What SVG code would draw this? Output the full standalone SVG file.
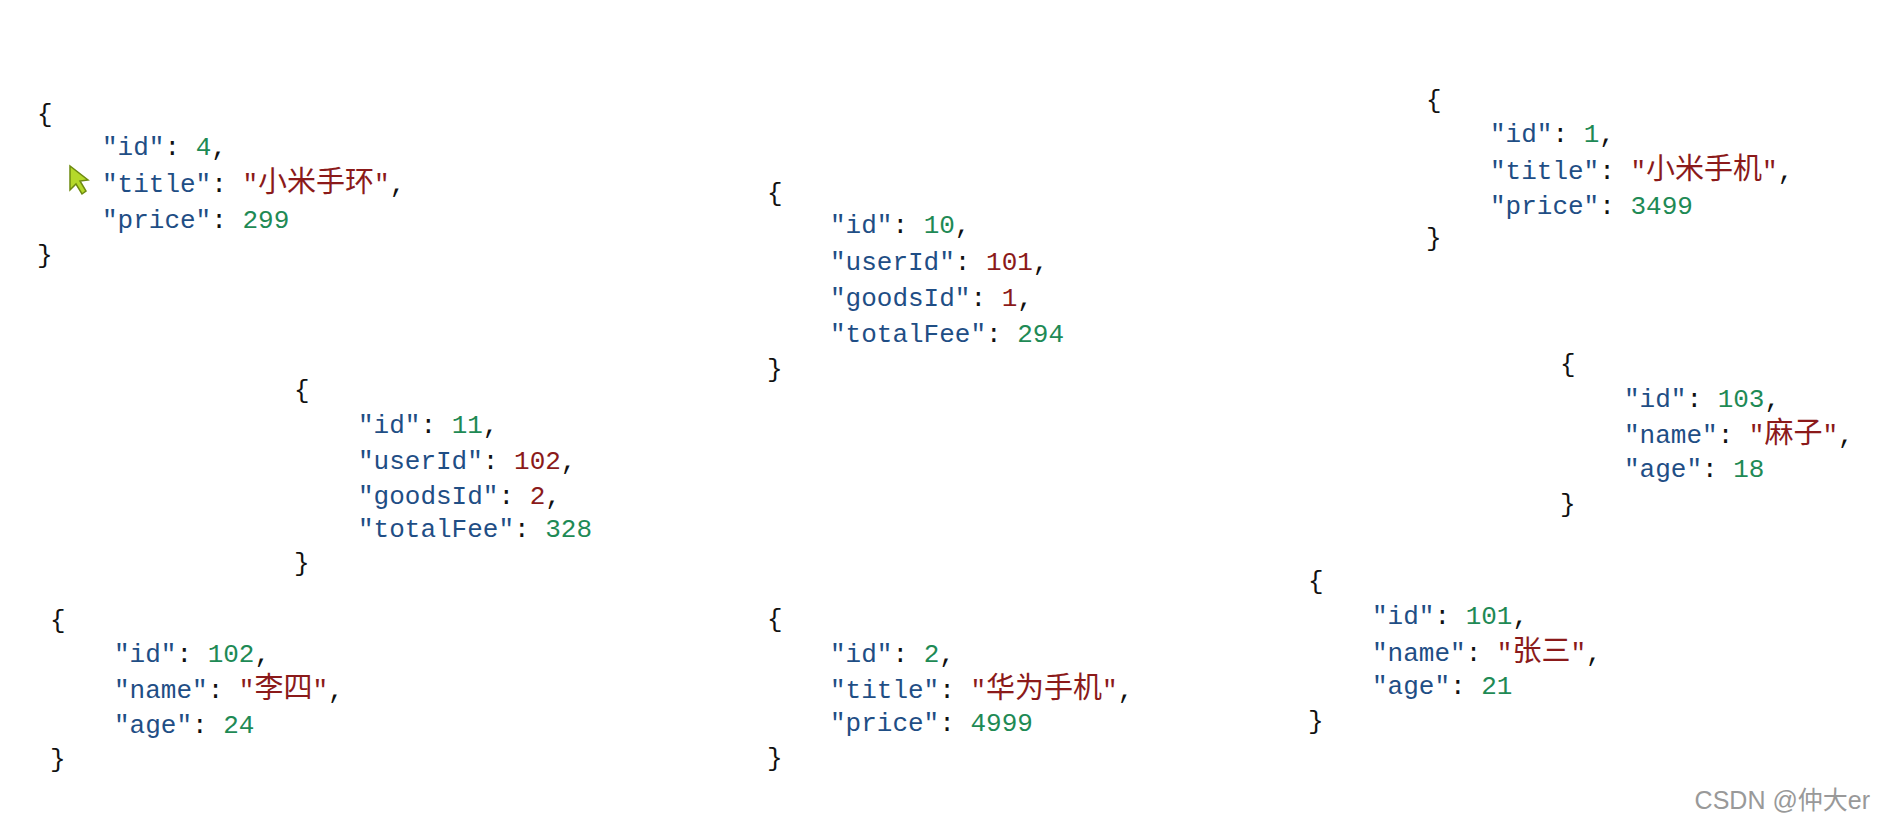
<svg xmlns="http://www.w3.org/2000/svg" width="1878" height="832" viewBox="0 0 1878 832">
<style>
text{font-family:"Liberation Mono","Noto Sans CJK SC",monospace;font-size:26px;white-space:pre;fill:#111}
.k{fill:#1f4e85}.n{fill:#1e8a55}.s{fill:#8b1a1a}.r{fill:#8b1a1a}
.c{font-size:29px}
.b{font-size:26px}
.wm{font-family:"Liberation Sans","Noto Sans CJK SC",sans-serif;font-size:25px;fill:#999}
</style>
<rect width="1878" height="832" fill="#fff"/>
<g id="goods4">
<text class="b" x="37" y="122">{</text>
<text x="102" y="155"><tspan class="k">"id"</tspan>: <tspan class="n">4</tspan>,</text>
<text x="102" y="192"><tspan class="k">"title"</tspan>: <tspan class="s">"<tspan class="c">小米手环</tspan>"</tspan>,</text>
<text x="102" y="228"><tspan class="k">"price"</tspan>: <tspan class="n">299</tspan></text>
<text class="b" x="37" y="263">}</text>
</g>
<polygon points="70,166 70,190 76,184 82,194 86,191 80,181 88,180" fill="#b5d92a" stroke="#6d8a10" stroke-width="1.5"/>
<g id="order10">
<text class="b" x="767" y="201">{</text>
<text x="830" y="233"><tspan class="k">"id"</tspan>: <tspan class="n">10</tspan>,</text>
<text x="830" y="270"><tspan class="k">"userId"</tspan>: <tspan class="r">101</tspan>,</text>
<text x="830" y="306"><tspan class="k">"goodsId"</tspan>: <tspan class="r">1</tspan>,</text>
<text x="830" y="342"><tspan class="k">"totalFee"</tspan>: <tspan class="n">294</tspan></text>
<text class="b" x="767" y="377">}</text>
</g>
<g id="goods1">
<text class="b" x="1426" y="108">{</text>
<text x="1490" y="142"><tspan class="k">"id"</tspan>: <tspan class="n">1</tspan>,</text>
<text x="1490" y="179"><tspan class="k">"title"</tspan>: <tspan class="s">"<tspan class="c">小米手机</tspan>"</tspan>,</text>
<text x="1490" y="214"><tspan class="k">"price"</tspan>: <tspan class="n">3499</tspan></text>
<text class="b" x="1426" y="246">}</text>
</g>
<g id="order11">
<text class="b" x="294" y="398">{</text>
<text x="358" y="433"><tspan class="k">"id"</tspan>: <tspan class="n">11</tspan>,</text>
<text x="358" y="469"><tspan class="k">"userId"</tspan>: <tspan class="r">102</tspan>,</text>
<text x="358" y="504"><tspan class="k">"goodsId"</tspan>: <tspan class="r">2</tspan>,</text>
<text x="358" y="537"><tspan class="k">"totalFee"</tspan>: <tspan class="n">328</tspan></text>
<text class="b" x="294" y="571">}</text>
</g>
<g id="user103">
<text class="b" x="1560" y="372">{</text>
<text x="1624" y="407"><tspan class="k">"id"</tspan>: <tspan class="n">103</tspan>,</text>
<text x="1624" y="443"><tspan class="k">"name"</tspan>: <tspan class="s">"<tspan class="c">麻子</tspan>"</tspan>,</text>
<text x="1624" y="477"><tspan class="k">"age"</tspan>: <tspan class="n">18</tspan></text>
<text class="b" x="1560" y="512">}</text>
</g>
<g id="user102">
<text class="b" x="50" y="628">{</text>
<text x="114" y="662"><tspan class="k">"id"</tspan>: <tspan class="n">102</tspan>,</text>
<text x="114" y="698"><tspan class="k">"name"</tspan>: <tspan class="s">"<tspan class="c">李四</tspan>"</tspan>,</text>
<text x="114" y="733"><tspan class="k">"age"</tspan>: <tspan class="n">24</tspan></text>
<text class="b" x="50" y="767">}</text>
</g>
<g id="goods2">
<text class="b" x="767" y="627">{</text>
<text x="830" y="662"><tspan class="k">"id"</tspan>: <tspan class="n">2</tspan>,</text>
<text x="830" y="698"><tspan class="k">"title"</tspan>: <tspan class="s">"<tspan class="c">华为手机</tspan>"</tspan>,</text>
<text x="830" y="731"><tspan class="k">"price"</tspan>: <tspan class="n">4999</tspan></text>
<text class="b" x="767" y="766">}</text>
</g>
<g id="user101">
<text class="b" x="1308" y="589">{</text>
<text x="1372" y="624"><tspan class="k">"id"</tspan>: <tspan class="n">101</tspan>,</text>
<text x="1372" y="661"><tspan class="k">"name"</tspan>: <tspan class="s">"<tspan class="c">张三</tspan>"</tspan>,</text>
<text x="1372" y="694"><tspan class="k">"age"</tspan>: <tspan class="n">21</tspan></text>
<text class="b" x="1308" y="729">}</text>
</g>
<g id="connectors"></g>
<text class="wm" x="1870" y="809" text-anchor="end">CSDN @仲大er</text>
</svg>
